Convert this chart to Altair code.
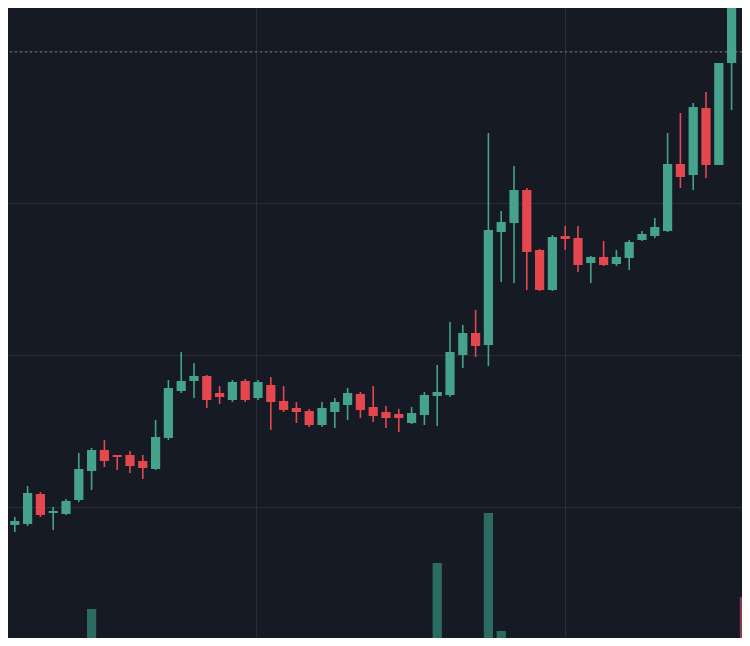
import altair as alt
import pandas as pd

# candle index 0..58
open_ = [143, 121, 122, 152, 133, 132, 146, 175, 196, 191, 191, 185, 177, 208, 255, 265, 270, 253, 246, 265,
         248, 261, 245, 238, 235, 221, 234, 241, 252, 239, 234, 232, 223, 231, 250, 251, 291, 313, 301, 414,
         423, 456, 396, 356, 410, 408, 383, 389, 382, 388, 406, 410, 415, 482, 471, 538, 481, 583, 680]
close = [118, 125, 153, 131, 135, 145, 177, 196, 185, 189, 180, 178, 209, 258, 265, 270, 246, 249, 264, 246,
         264, 244, 236, 234, 221, 238, 244, 253, 236, 230, 228, 228, 233, 251, 254, 294, 313, 300, 416, 424,
         456, 394, 356, 409, 407, 381, 389, 381, 389, 404, 412, 419, 482, 469, 539, 481, 583, 660, 640]
high = [146, 129, 160, 154, 139, 147, 193, 198, 206, 191, 195, 191, 226, 266, 294, 283, 271, 260, 266, 267,
        266, 269, 260, 244, 237, 244, 248, 258, 254, 260, 240, 237, 239, 254, 281, 324, 321, 336, 513, 435,
        480, 458, 397, 411, 420, 420, 390, 405, 396, 406, 415, 428, 513, 533, 543, 554, 583, 680, 690]
low = [114, 114, 120, 129, 116, 131, 144, 156, 179, 176, 173, 167, 176, 206, 253, 248, 238, 242, 244, 244,
       246, 216, 234, 223, 219, 219, 218, 226, 228, 224, 218, 214, 222, 221, 220, 249, 278, 289, 280, 364,
       363, 356, 355, 355, 396, 374, 363, 380, 380, 376, 405, 408, 414, 458, 456, 468, 481, 536, 578]
volume = [0, 0, 0, 0, 0, 0, 0, 37, 0, 0, 0, 0, 0, 0, 0, 0, 0, 0, 0, 0,
          0, 0, 0, 0, 0, 0, 0, 0, 0, 0, 0, 0, 0, 0, 83, 0, 0, 0, 133, 15,
          0, 0, 0, 0, 0, 0, 0, 0, 0, 0, 0, 0, 0, 0, 0, 0, 3, 7, 49]

grid_y = [139, 291, 443, 595]
grid_x = [19.84, 43.98]
price_line = [594]

BG = "#161a25"
UP = "#45a38c"
DOWN = "#e5474f"
UP_VOL = "#2b6b62"
DOWN_VOL = "#8a3a4a"
GRID = "#2a2e39"

df = pd.DataFrame({
    "i": list(range(len(open_))),
    "open": open_, "close": close, "high": high, "low": low, "volume": volume,
})

xs = alt.Scale(domain=[0.46875, 57.8125], nice=False, zero=False)
ys = alt.Scale(domain=[8, 638], nice=False, zero=False)

xaxis = alt.Axis(values=grid_x, labels=False, ticks=False, domain=False, grid=True,
                 gridColor=GRID, gridWidth=1, title=None)
yaxis = alt.Axis(values=grid_y, labels=False, ticks=False, domain=False, grid=True,
                 gridColor=GRID, gridWidth=1, title=None)

color = alt.condition("datum.close >= datum.open", alt.value(UP), alt.value(DOWN))
vcolor = alt.condition("datum.close >= datum.open", alt.value(UP_VOL), alt.value(DOWN_VOL))

base = alt.Chart(df).transform_calculate(
    xl="datum.i - 0.36", xr="datum.i + 0.36"
)

vol = base.mark_bar(clip=True).encode(
    x=alt.X("xl:Q", scale=xs, axis=xaxis),
    x2="xr:Q",
    y=alt.Y("volume:Q", scale=ys, axis=yaxis),
    y2=alt.datum(0),
    color=vcolor,
)

wick = base.mark_rule(strokeWidth=1.6, clip=True).encode(
    x=alt.X("i:Q", scale=xs),
    y=alt.Y("low:Q", scale=ys),
    y2="high:Q",
    color=color,
)

body = base.mark_bar(clip=True).encode(
    x=alt.X("xl:Q", scale=xs),
    x2="xr:Q",
    y=alt.Y("open:Q", scale=ys),
    y2="close:Q",
    color=color,
)

pl = alt.Chart(pd.DataFrame({"p": price_line})).mark_rule(
    color="#8a8e99", strokeDash=[2, 3], strokeWidth=1, opacity=0.8
).encode(y=alt.Y("p:Q", scale=ys))

chart = alt.layer(vol, wick, body, pl).properties(
    width=734, height=630, background=BG, padding=0,
    autosize=alt.AutoSizeParams(type="none"),
).configure_view(stroke=None, fill=BG)

chart.save("out.html", embed_options={"renderer": "svg", "actions": False})
